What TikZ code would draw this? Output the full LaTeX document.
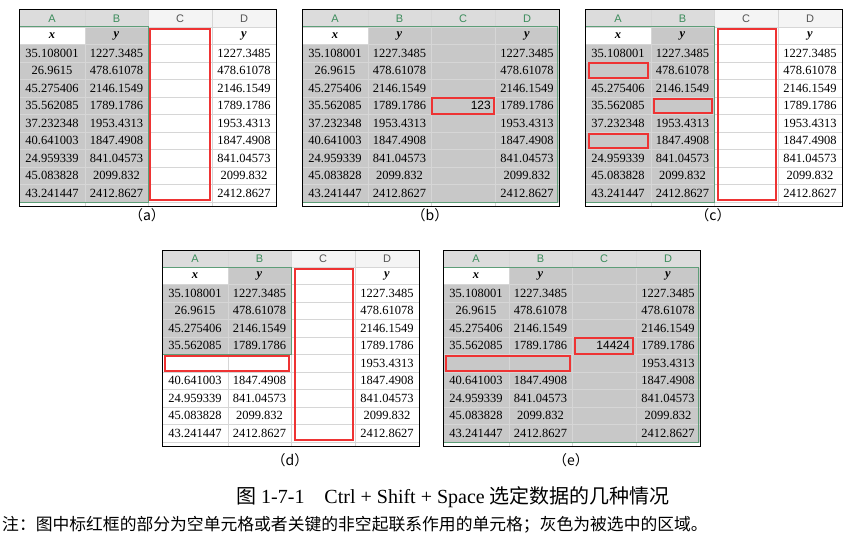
\documentclass[tikz,border=0pt]{standalone}
\usepackage{fontspec}
\setmainfont{Liberation Serif}
\newfontfamily\cjk{Noto Sans CJK SC}
\newfontfamily\hdrf{Liberation Sans}
\definecolor{selc}{HTML}{C8C8C8}
\definecolor{selhdr}{HTML}{DCDCDC}
\definecolor{hdrbg}{HTML}{F4F4F4}
\definecolor{gridc}{HTML}{D6D6D6}
\definecolor{hgreen}{HTML}{3C8C5C}
\definecolor{hgray}{HTML}{555555}
\definecolor{selbdc}{HTML}{5E9E78}
\definecolor{redc}{HTML}{EE3333}
\tikzset{
  x=1pt,y=-1pt,
  num/.style={font=\fontsize{12.5}{14}\selectfont, inner sep=0pt},
  hdr/.style={font=\hdrf\fontsize{11}{12}\selectfont, inner sep=0pt},
  selbd/.style={draw=selbdc, line width=1pt},
  redbox/.style={draw=redc, line width=2pt},
  frame/.style={draw=black, line width=1pt},
  lab/.style={font=\cjk\fontsize{14}{16}\selectfont, inner sep=0pt},
  gridl/.style={draw=gridc, line width=0.6pt}
}
\newcommand\gridlines{%
  \foreach \ii in {0,...,10} {\draw[gridl] (0,17+17.5*\ii) -- (257,17+17.5*\ii);}
  \draw[gridl] (66,0) -- (66,196);
  \draw[gridl] (129,0) -- (129,196);
  \draw[gridl] (193,0) -- (193,196);
}
% #1 prefix, #2..#5 header letter colours
\newcommand\hdrs[5]{%
  \node[hdr, text=#2] (#1-hA) at (33,8.5) {A};
  \node[hdr, text=#3] (#1-hB) at (97.5,8.5) {B};
  \node[hdr, text=#4] (#1-hC) at (161,8.5) {C};
  \node[hdr, text=#5] (#1-hD) at (225,8.5) {D};
  \node[num] (#1-x0) at (33,25.75) {\textbf{\textit{x}}};
  \node[num] (#1-y0) at (97.5,25.75) {\textbf{\textit{y}}};
  \node[num] (#1-d0) at (225,25.75) {\textbf{\textit{y}}};
}
\newcommand\cellrow[8]{%
  \ifnum#2=#5 \else\ifnum#2=#6 \else \node[num] (#1-a#2) at (33,{25.75+17.5*#2}) {#3};\fi\fi
  \ifnum#2=#7 \else\ifnum#2=#8 \else \node[num] (#1-b#2) at (97.5,{25.75+17.5*#2}) {#4};\fi\fi
  \node[num] (#1-d#2) at (225,{25.75+17.5*#2}) {#4};
}
% #1 prefix, #2 #3 blank rows in A, #4 #5 blank rows in B (0 = none)
\newcommand\datarows[5]{%
  \cellrow{#1}{1}{35.108001}{1227.3485}{#2}{#3}{#4}{#5}
  \cellrow{#1}{2}{26.9615}{478.61078}{#2}{#3}{#4}{#5}
  \cellrow{#1}{3}{45.275406}{2146.1549}{#2}{#3}{#4}{#5}
  \cellrow{#1}{4}{35.562085}{1789.1786}{#2}{#3}{#4}{#5}
  \cellrow{#1}{5}{37.232348}{1953.4313}{#2}{#3}{#4}{#5}
  \cellrow{#1}{6}{40.641003}{1847.4908}{#2}{#3}{#4}{#5}
  \cellrow{#1}{7}{24.959339}{841.04573}{#2}{#3}{#4}{#5}
  \cellrow{#1}{8}{45.083828}{2099.832}{#2}{#3}{#4}{#5}
  \cellrow{#1}{9}{43.241447}{2412.8627}{#2}{#3}{#4}{#5}
}
\begin{document}
\begin{tikzpicture}
\useasboundingbox (0,0) rectangle (849,543);
\fill[white] (0,0) rectangle (849,543);
% (a)
\begin{scope}[shift={(19,10)}]
  \fill[hdrbg] (0,0) rectangle (257,17);
  \fill[selhdr] (0,0) rectangle (129,17);
  \fill[selc] (66,17) rectangle (129,34.5);
  \fill[selc] (0,34.5) rectangle (129,192);
  \gridlines
  \hdrs{a}{hgreen}{hgreen}{hgray}{hgray}
  \datarows{a}{0}{0}{0}{0}
  \draw[selbd] (0,17) rectangle (129,192);
  \draw[redbox] (131,19) rectangle (191,190);
  \draw[frame] (0,0) rectangle (257,196);
  \node[lab] (a-lab) at (128,205) {（a）};
\end{scope}
% (b)
\begin{scope}[shift={(302,10)}]
  \fill[selhdr] (0,0) rectangle (257,17);
  \fill[selc] (66,17) rectangle (257,34.5);
  \fill[selc] (0,34.5) rectangle (257,192);
  \gridlines
  \hdrs{b}{hgreen}{hgreen}{hgreen}{hgreen}
  \datarows{b}{0}{0}{0}{0}
  \draw[selbd] (0,17) rectangle (255,192);
  \draw[redbox] (130,88) rectangle (192,103.5);
  \node[hdr, anchor=east, font=\hdrf\fontsize{12}{13}\selectfont] (b-c4) at (189,95.75) {123};
  \draw[frame] (0,0) rectangle (257,196);
  \node[lab] (b-lab) at (128,205) {（b）};
\end{scope}
% (c)
\begin{scope}[shift={(585,10)}]
  \fill[hdrbg] (0,0) rectangle (257,17);
  \fill[selhdr] (0,0) rectangle (129,17);
  \fill[selc] (66,17) rectangle (129,34.5);
  \fill[selc] (0,34.5) rectangle (129,192);
  \gridlines
  \hdrs{c}{hgreen}{hgreen}{hgray}{hgray}
  \datarows{c}{2}{6}{4}{0}
  \draw[selbd] (0,17) rectangle (129,192);
  \draw[redbox] (4,53.5) rectangle (63,68);
  \draw[redbox] (69,88.5) rectangle (127,103);
  \draw[redbox] (4,123.5) rectangle (63,138);
  \draw[redbox] (133,19) rectangle (191,190);
  \draw[frame] (0,0) rectangle (257,196);
  \node[lab] (c-lab) at (128,205) {（c）};
\end{scope}
% (d)
\begin{scope}[shift={(162,250)}]
  \fill[hdrbg] (0,0) rectangle (257,17);
  \fill[selhdr] (0,0) rectangle (129,17);
  \fill[selc] (66,17) rectangle (129,34.5);
  \fill[selc] (0,34.5) rectangle (129,104.5);
  \gridlines
  \hdrs{d}{hgreen}{hgreen}{hgray}{hgray}
  \datarows{d}{5}{0}{5}{0}
  \draw[selbd] (0,17) rectangle (129,104.5);
  \draw[redbox] (3,106) rectangle (127,121);
  \draw[redbox] (133,19) rectangle (191,190);
  \draw[frame] (0,0) rectangle (257,196);
  \node[lab] (d-lab) at (128,210) {（d）};
\end{scope}
% (e)
\begin{scope}[shift={(443,250)}]
  \fill[selhdr] (0,0) rectangle (257,17);
  \fill[selc] (66,17) rectangle (257,34.5);
  \fill[selc] (0,34.5) rectangle (257,192);
  \gridlines
  \hdrs{e}{hgreen}{hgreen}{hgreen}{hgreen}
  \datarows{e}{5}{0}{5}{0}
  \draw[selbd] (0,17) rectangle (255,192);
  \draw[redbox] (3,106) rectangle (127,121);
  \draw[redbox] (132,88) rectangle (190,103.5);
  \node[hdr, anchor=east, font=\hdrf\fontsize{12}{13}\selectfont] (e-c4) at (187,95.75) {14424};
  \draw[frame] (0,0) rectangle (257,196);
  \node[lab] (e-lab) at (128,210) {（e）};
\end{scope}
\node[font=\fontsize{20}{22}\selectfont, inner sep=0pt] (cap) at (453,497) {{\cjk 图}~1-7-1\quad Ctrl + Shift + Space {\cjk 选定数据的几种情况}};
\node[font=\cjk\fontsize{16.8}{18}\selectfont, inner sep=0pt, anchor=west] (note) at (2,525) {注：图中标红框的部分为空单元格或者关键的非空起联系作用的单元格；灰色为被选中的区域。};
\end{tikzpicture}
\end{document}
